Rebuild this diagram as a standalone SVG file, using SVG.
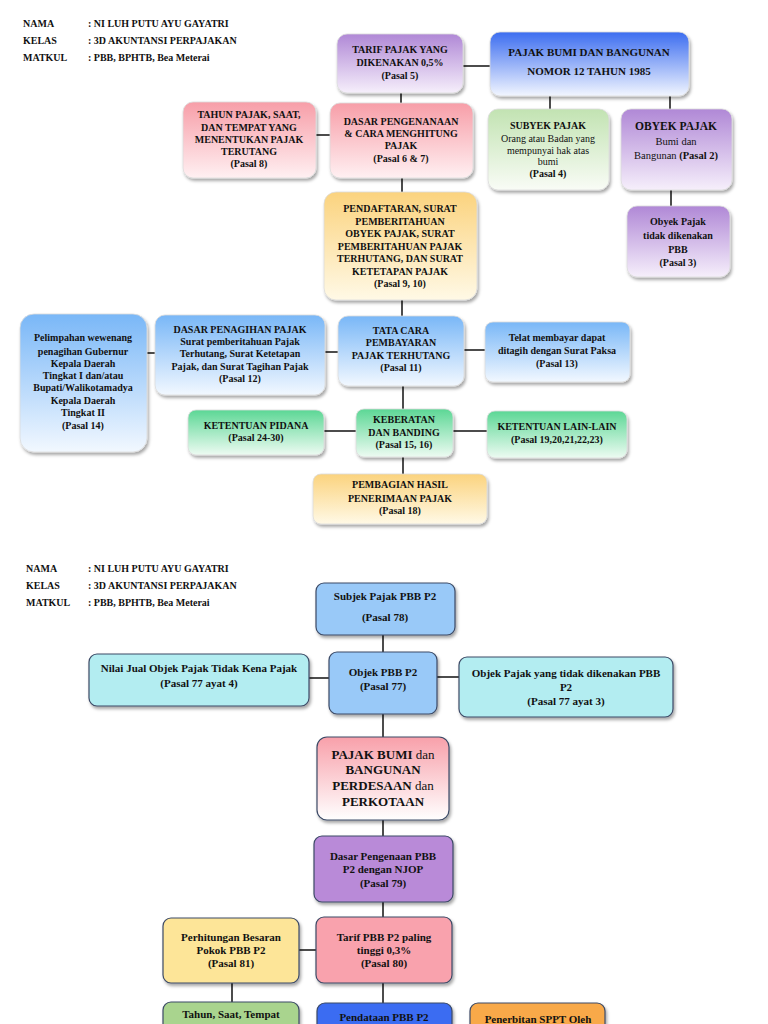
<svg xmlns="http://www.w3.org/2000/svg" width="768" height="1024" viewBox="0 0 768 1024">
<style>
text{font-family:"Liberation Serif","Times New Roman",serif;font-weight:bold;fill:#111;text-anchor:middle;font-size:10px}
.hd{text-anchor:start;font-size:10px}
.n{font-weight:normal}
.s{font-size:11px}
.t{stroke:#dcdcdc;stroke-width:0.8}
.b{stroke:#3c4a66;stroke-width:1.2}
.c line{stroke:#111;stroke-width:1.5}
</style>
<defs>
<filter id="sh" x="-10%" y="-10%" width="130%" height="140%"><feDropShadow dx="1.5" dy="2.5" stdDeviation="1.5" flood-color="#000" flood-opacity="0.35"/></filter>
<linearGradient id="gPu" x1="0" y1="0" x2="0" y2="1"><stop offset="0" stop-color="#b088d6"/><stop offset="1" stop-color="#f6effb"/></linearGradient>
<linearGradient id="gBl" x1="0" y1="0" x2="0" y2="1"><stop offset="0" stop-color="#3c6df0"/><stop offset="1" stop-color="#f2f6ff"/></linearGradient>
<linearGradient id="gGr" x1="0" y1="0" x2="0" y2="1"><stop offset="0" stop-color="#c2e3b2"/><stop offset="1" stop-color="#f9fcf6"/></linearGradient>
<linearGradient id="gPk" x1="0" y1="0" x2="0" y2="1"><stop offset="0" stop-color="#f79ea8"/><stop offset="1" stop-color="#fff0f2"/></linearGradient>
<linearGradient id="gYe" x1="0" y1="0" x2="0" y2="1"><stop offset="0" stop-color="#fbd37e"/><stop offset="1" stop-color="#fff9e6"/></linearGradient>
<linearGradient id="gLb" x1="0" y1="0" x2="0" y2="1"><stop offset="0" stop-color="#79b7f7"/><stop offset="1" stop-color="#f2f8ff"/></linearGradient>
<linearGradient id="gGn" x1="0" y1="0" x2="0" y2="1"><stop offset="0" stop-color="#5cd795"/><stop offset="1" stop-color="#edfbf2"/></linearGradient>
<linearGradient id="gPk2" x1="0" y1="0" x2="0" y2="1"><stop offset="0" stop-color="#f8a0aa"/><stop offset="1" stop-color="#ffffff"/></linearGradient>
</defs>
<rect width="768" height="1024" fill="#fff"/>

<g id="header1">
<text class="hd" x="23" y="27">NAMA</text><text class="hd" x="88" y="27">: NI LUH PUTU AYU GAYATRI</text>
<text class="hd" x="23" y="44">KELAS</text><text class="hd" x="88" y="44">: 3D AKUNTANSI PERPAJAKAN</text>
<text class="hd" x="23" y="61">MATKUL</text><text class="hd" x="88" y="61">: PBB, BPHTB, Bea Meterai</text>
</g>

<g class="c" id="connectors">
<line x1="463" y1="66" x2="490" y2="66"/>
<line x1="550" y1="96" x2="550" y2="109"/>
<line x1="670" y1="96" x2="670" y2="109"/>
<line x1="671" y1="190" x2="671" y2="206"/>
<line x1="401" y1="93" x2="401" y2="103"/>
<line x1="316" y1="135" x2="330" y2="135"/>
<line x1="402" y1="178" x2="402" y2="192"/>
<line x1="402" y1="300" x2="402" y2="316"/>
<line x1="464" y1="350" x2="485" y2="350"/>
<line x1="325" y1="352" x2="338" y2="352"/>
<line x1="147" y1="353" x2="155" y2="353"/>
<line x1="403" y1="386" x2="403" y2="409"/>
<line x1="324" y1="431" x2="356" y2="431"/>
<line x1="453" y1="431" x2="487" y2="431"/>
<line x1="403" y1="457" x2="403" y2="474"/>
<line x1="383" y1="635" x2="383" y2="652"/>
<line x1="309" y1="678" x2="329" y2="678"/>
<line x1="437" y1="677" x2="459" y2="677"/>
<line x1="383" y1="714" x2="383" y2="737"/>
<line x1="383" y1="820" x2="383" y2="836"/>
<line x1="383" y1="902" x2="383" y2="917"/>
<line x1="299" y1="950" x2="316" y2="950"/>
<line x1="232" y1="983" x2="232" y2="1002"/>
<line x1="383" y1="983" x2="383" y2="1003"/>
</g>

<g id="tarif">
<rect class="t" x="337" y="34" width="126" height="59" rx="10" fill="url(#gPu)" filter="url(#sh)"/>
<text x="400" y="53">TARIF PAJAK YANG</text>
<text x="400" y="66">DIKENAKAN 0,5%</text>
<text x="400" y="79">(Pasal 5)</text>
</g>
<g id="pbb">
<rect class="t" x="490" y="32" width="199" height="64" rx="10" fill="url(#gBl)" filter="url(#sh)"/>
<text x="589" y="56" style="font-size:11px">PAJAK BUMI DAN BANGUNAN</text>
<text x="589" y="75" style="font-size:11px">NOMOR 12 TAHUN 1985</text>
</g>
<g id="subyek">
<rect class="t" x="488" y="109" width="121" height="81" rx="10" fill="url(#gGr)" filter="url(#sh)"/>
<text x="548" y="129">SUBYEK PAJAK</text>
<text x="548" y="142" class="n">Orang atau Badan yang</text>
<text x="548" y="154" class="n">mempunyai hak atas</text>
<text x="548" y="165" class="n">bumi</text>
<text x="548" y="177">(Pasal 4)</text>
</g>
<g id="obyek">
<rect class="t" x="621" y="109" width="111" height="81" rx="10" fill="url(#gPu)" filter="url(#sh)"/>
<text x="676" y="130" style="font-size:11.5px">OBYEK PAJAK</text>
<text x="676" y="145" class="n" style="font-size:10.5px">Bumi dan</text>
<text x="676" y="159" style="font-size:10.5px"><tspan class="n">Bangunan </tspan>(Pasal 2)</text>
</g>
<g id="obyek-tidak">
<rect class="t" x="627" y="206" width="103" height="71" rx="10" fill="url(#gPu)" filter="url(#sh)"/>
<text x="678" y="225">Obyek Pajak</text>
<text x="678" y="239">tidak dikenakan</text>
<text x="678" y="253">PBB</text>
<text x="678" y="266">(Pasal 3)</text>
</g>
<g id="dasar">
<rect class="t" x="330" y="103" width="143" height="75" rx="10" fill="url(#gPk)" filter="url(#sh)"/>
<text x="401" y="125">DASAR PENGENANAAN</text>
<text x="401" y="137">&amp; CARA MENGHITUNG</text>
<text x="401" y="149">PAJAK</text>
<text x="401" y="162">(Pasal 6 &amp; 7)</text>
</g>
<g id="tahun">
<rect class="t" x="183" y="102" width="133" height="76" rx="10" fill="url(#gPk)" filter="url(#sh)"/>
<text x="249" y="118">TAHUN PAJAK, SAAT,</text>
<text x="249" y="131">DAN TEMPAT YANG</text>
<text x="249" y="143">MENENTUKAN PAJAK</text>
<text x="249" y="155">TERUTANG</text>
<text x="249" y="167">(Pasal 8)</text>
</g>
<g id="pendaftaran">
<rect class="t" x="324" y="192" width="153" height="108" rx="12" fill="url(#gYe)" filter="url(#sh)"/>
<text x="400" y="212">PENDAFTARAN, SURAT</text>
<text x="400" y="224.5">PEMBERITAHUAN</text>
<text x="400" y="237">OBYEK PAJAK, SURAT</text>
<text x="400" y="249.5">PEMBERITAHUAN PAJAK</text>
<text x="400" y="262">TERHUTANG, DAN SURAT</text>
<text x="400" y="274.5">KETETAPAN PAJAK</text>
<text x="400" y="287">(Pasal 9, 10)</text>
</g>
<g id="tatacara">
<rect class="t" x="338" y="316" width="126" height="70" rx="10" fill="url(#gLb)" filter="url(#sh)"/>
<text x="401" y="334">TATA CARA</text>
<text x="401" y="346">PEMBAYARAN</text>
<text x="401" y="359">PAJAK TERHUTANG</text>
<text x="401" y="371">(Pasal 11)</text>
</g>
<g id="telat">
<rect class="t" x="485" y="322" width="145" height="60" rx="8" fill="url(#gLb)" filter="url(#sh)"/>
<text x="557" y="341">Telat membayar dapat</text>
<text x="557" y="354">ditagih dengan Surat Paksa</text>
<text x="557" y="367">(Pasal 13)</text>
</g>
<g id="penagihan">
<rect class="t" x="155" y="315" width="170" height="80" rx="10" fill="url(#gLb)" filter="url(#sh)"/>
<text x="240" y="333">DASAR PENAGIHAN PAJAK</text>
<text x="240" y="345">Surat pemberitahuan Pajak</text>
<text x="240" y="357">Terhutang, Surat Ketetapan</text>
<text x="240" y="370">Pajak, dan Surat Tagihan Pajak</text>
<text x="240" y="382">(Pasal 12)</text>
</g>
<g id="pelimpahan">
<rect class="t" x="20" y="314" width="127" height="138" rx="14" fill="url(#gLb)" filter="url(#sh)"/>
<text x="83" y="341">Pelimpahan wewenang</text>
<text x="83" y="355">penagihan Gubernur</text>
<text x="83" y="367">Kepala Daerah</text>
<text x="83" y="379">Tingkat I dan/atau</text>
<text x="83" y="391">Bupati/Walikotamadya</text>
<text x="83" y="404">Kepala Daerah</text>
<text x="83" y="416">Tingkat II</text>
<text x="83" y="429">(Pasal 14)</text>
</g>
<g id="pidana">
<rect class="t" x="188" y="410" width="136" height="45" rx="8" fill="url(#gGn)" filter="url(#sh)"/>
<text x="256" y="429">KETENTUAN PIDANA</text>
<text x="256" y="441">(Pasal 24-30)</text>
</g>
<g id="keberatan">
<rect class="t" x="356" y="409" width="97" height="48" rx="8" fill="url(#gGn)" filter="url(#sh)"/>
<text x="404" y="423">KEBERATAN</text>
<text x="404" y="436">DAN BANDING</text>
<text x="404" y="448">(Pasal 15, 16)</text>
</g>
<g id="lainlain">
<rect class="t" x="487" y="411" width="140" height="47" rx="8" fill="url(#gGn)" filter="url(#sh)"/>
<text x="557" y="430">KETENTUAN LAIN-LAIN</text>
<text x="557" y="443">(Pasal 19,20,21,22,23)</text>
</g>
<g id="pembagian">
<rect class="t" x="313" y="474" width="174" height="50" rx="8" fill="url(#gYe)" filter="url(#sh)"/>
<text x="400" y="488">PEMBAGIAN HASIL</text>
<text x="400" y="502">PENERIMAAN PAJAK</text>
<text x="400" y="514">(Pasal 18)</text>
</g>

<g id="header2">
<text class="hd" x="26" y="572">NAMA</text><text class="hd" x="88" y="572">: NI LUH PUTU AYU GAYATRI</text>
<text class="hd" x="26" y="589">KELAS</text><text class="hd" x="88" y="589">: 3D AKUNTANSI PERPAJAKAN</text>
<text class="hd" x="26" y="606">MATKUL</text><text class="hd" x="88" y="606">: PBB, BPHTB, Bea Meterai</text>
</g>

<g id="subjek-p2">
<rect class="b" x="316" y="583" width="139" height="52" rx="8" fill="#99c9f8" filter="url(#sh)"/>
<text class="s" x="385" y="600">Subjek Pajak PBB P2</text>
<text class="s" x="385" y="621">(Pasal 78)</text>
</g>
<g id="objek-p2">
<rect class="b" x="329" y="652" width="108" height="62" rx="8" fill="#99c9f8" filter="url(#sh)"/>
<text class="s" x="383" y="676">Objek PBB P2</text>
<text class="s" x="383" y="690">(Pasal 77)</text>
</g>
<g id="njoptkp">
<rect class="b" x="89" y="654" width="220" height="52" rx="8" fill="#b3edf1" filter="url(#sh)"/>
<text class="s" x="199" y="672">Nilai Jual Objek Pajak Tidak Kena Pajak</text>
<text class="s" x="199" y="687">(Pasal 77 ayat 4)</text>
</g>
<g id="objek-tidak-p2">
<rect class="b" x="459" y="657" width="214" height="60" rx="8" fill="#b3edf1" filter="url(#sh)"/>
<text class="s" x="566" y="677">Objek Pajak yang tidak dikenakan PBB</text>
<text class="s" x="566" y="691">P2</text>
<text class="s" x="566" y="705">(Pasal 77 ayat 3)</text>
</g>
<g id="pbb-p2">
<rect class="b" x="317" y="737" width="132" height="83" rx="10" fill="url(#gPk2)" filter="url(#sh)"/>
<text x="383" y="759" style="font-size:13px">PAJAK BUMI <tspan class="n">dan</tspan></text>
<text x="383" y="774" style="font-size:13px">BANGUNAN</text>
<text x="383" y="790" style="font-size:13px">PERDESAAN <tspan class="n">dan</tspan></text>
<text x="383" y="806" style="font-size:13px">PERKOTAAN</text>
</g>
<g id="dasar-p2">
<rect class="b" x="314" y="836" width="139" height="66" rx="8" fill="#b98ad8" filter="url(#sh)"/>
<text class="s" x="383" y="860">Dasar Pengenaan PBB</text>
<text class="s" x="383" y="873">P2 dengan NJOP</text>
<text class="s" x="383" y="887">(Pasal 79)</text>
</g>
<g id="tarif-p2">
<rect class="b" x="316" y="917" width="136" height="66" rx="8" fill="#f9a2ad" filter="url(#sh)"/>
<text class="s" x="384" y="941">Tarif PBB P2 paling</text>
<text class="s" x="384" y="954">tinggi 0,3%</text>
<text class="s" x="384" y="967">(Pasal 80)</text>
</g>
<g id="perhitungan-p2">
<rect class="b" x="163" y="918" width="136" height="65" rx="8" fill="#fde598" filter="url(#sh)"/>
<text class="s" x="231" y="941">Perhitungan Besaran</text>
<text class="s" x="231" y="954">Pokok PBB P2</text>
<text class="s" x="231" y="967">(Pasal 81)</text>
</g>
<g id="tahun-p2">
<rect class="b" x="163" y="1002" width="136" height="60" rx="8" fill="#a9d48e" filter="url(#sh)"/>
<text class="s" x="231" y="1018">Tahun, Saat, Tempat</text>
</g>
<g id="pendataan-p2">
<rect class="b" x="317" y="1003" width="135" height="60" rx="8" fill="#3b6cf2" filter="url(#sh)"/>
<text class="s" x="384" y="1021">Pendataan PBB P2</text>
</g>
<g id="sppt-p2">
<rect class="b" x="470" y="1003" width="135" height="60" rx="8" fill="#f8a94a" filter="url(#sh)"/>
<text class="s" x="538" y="1023">Penerbitan SPPT Oleh</text>
</g>
</svg>
